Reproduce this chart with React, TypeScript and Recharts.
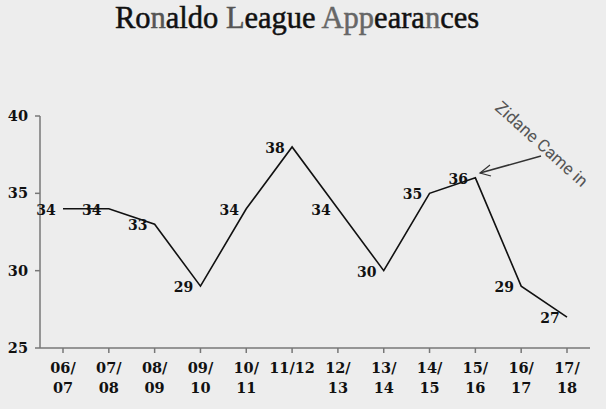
import React from 'react';
import { LineChart, Line, XAxis, YAxis, LabelList } from 'recharts';

const seasons = ['06/07', '07/08', '08/09', '09/10', '10/11', '11/12', '12/13', '13/14', '14/15', '15/16', '16/17', '17/18'];
const appearances = [34, 34, 33, 29, 34, 38, 34, 30, 35, 36, 29, 27];
const tickLines: string[][] = [
  ['06/', '07'], ['07/', '08'], ['08/', '09'], ['09/', '10'], ['10/', '11'], ['11/12'],
  ['12/', '13'], ['13/', '14'], ['14/', '15'], ['15/', '16'], ['16/', '17'], ['17/', '18'],
];
const yTicks = [25, 30, 35, 40];

const chartData = seasons.map((s, i) => ({ season: s, apps: appearances[i] }));

const numFont = '"DejaVu Serif", serif';

const SeasonTick = (props: any) => {
  const { x, y, payload } = props;
  const lines = tickLines[payload.index] || [payload.value];
  return (
    <g>
      {lines.map((l, i) => (
        <text key={i} x={x} y={y + 18 + i * 20} textAnchor="middle" fontFamily={numFont}
          fontWeight="bold" fontSize={14.5} fill="#111">{l}</text>
      ))}
    </g>
  );
};

const ValueTick = (props: any) => {
  const { x, y, payload } = props;
  return (
    <text x={x - 5} y={y + 5} textAnchor="end" fontFamily={numFont} fontWeight="bold" fontSize={14.5} fill="#111">
      {payload.value}
    </text>
  );
};

const PointLabel = (props: any) => {
  const { x, y, value } = props;
  return (
    <text x={x - 17} y={y + 6} textAnchor="middle" fontFamily={numFont} fontWeight="bold" fontSize={14} fill="#111">
      {value}
    </text>
  );
};

const grey = '#777';

export default function App() {
  return (
    <div style={{ position: 'absolute', left: 0, top: 0, width: 606, height: 409, background: '#ededed' }}>
      <div style={{ position: 'absolute', left: 0, top: 1, width: 594, textAlign: 'center', fontFamily: '"Liberation Serif", serif', fontSize: 30.5, color: '#111', WebkitTextStroke: '0.5px' }}>
        Ro<span style={{ color: '#555' }}>n</span>aldo <span style={{ color: '#555' }}>L</span>eague <span style={{ color: '#666' }}>App</span>eara<span style={{ color: '#666' }}>n</span>ces
      </div>
      <LineChart width={606} height={409} data={chartData} margin={{ top: 116, right: 16, bottom: 0, left: 0 }}>
        <XAxis dataKey="season" height={61} padding={{ left: 23, right: 23 }} stroke={grey} strokeWidth={1.5}
          tickSize={5} tick={<SeasonTick />} interval={0} />
        <YAxis domain={[25, 40]} ticks={yTicks} width={40} stroke={grey} strokeWidth={1.5} tickSize={5}
          tick={<ValueTick />} />
        <Line type="linear" dataKey="apps" stroke="#111" strokeWidth={1.6} dot={false} isAnimationActive={false}>
          <LabelList dataKey="apps" content={<PointLabel />} />
        </Line>
      </LineChart>
      <svg width={606} height={409} style={{ position: 'absolute', left: 0, top: 0, pointerEvents: 'none' }}>
        <text x={494} y={109} transform="rotate(42 494 109)" fontFamily="Roboto, sans-serif" fontSize={17} fill="#555">
          Zidane Came in
        </text>
        <line x1={541} y1={156} x2={480} y2={173} stroke="#333" strokeWidth={1.5} />
        <polyline points="490,165 480,173 491,176" fill="none" stroke="#333" strokeWidth={1.2} />
      </svg>
    </div>
  );
}
